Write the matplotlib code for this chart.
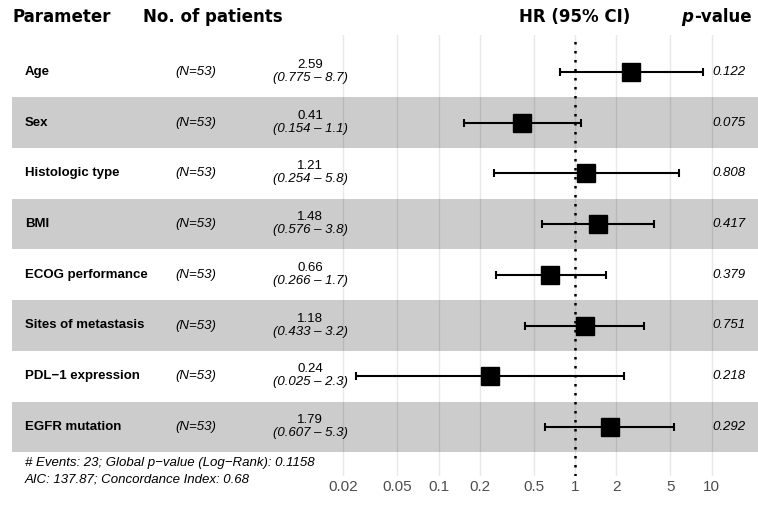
import numpy as np
import matplotlib.pyplot as plt

# --- DATOS ---
parametros = ["Age", "Sex", "Histologic type", "BMI", "ECOG performance",
              "Sites of metastasis", "PDL\u22121 expression", "EGFR mutation"]
n_pacientes = ["(N=53)"] * 8
hr = [2.59, 0.41, 1.21, 1.48, 0.66, 1.18, 0.24, 1.79]
ci_low = [0.775, 0.154, 0.254, 0.576, 0.266, 0.433, 0.025, 0.607]
ci_high = [8.7, 1.1, 5.8, 3.8, 1.7, 3.2, 2.3, 5.3]
ci_low_txt = ["0.775", "0.154", "0.254", "0.576", "0.266", "0.433", "0.025", "0.607"]
ci_high_txt = ["8.7", "1.1", "5.8", "3.8", "1.7", "3.2", "2.3", "5.3"]
p_valores = ["0.122", "0.075", "0.808", "0.417", "0.379", "0.751", "0.218", "0.292"]
ticks = [0.02, 0.05, 0.1, 0.2, 0.5, 1, 2, 5, 10]
tick_labels = ["0.02", "0.05", "0.1", "0.2", "0.5", "1", "2", "5", "10"]
pie = ["# Events: 23; Global p\u2212value (Log\u2212Rank): 0.1158",
       "AIC: 137.87; Concordance Index: 0.68"]

plt.rcParams['font.family'] = ['Liberation Sans', 'DejaVu Sans']

W, H = 758, 507
fig = plt.figure(figsize=(W / 100, H / 100), dpi=100)

# fondo en coordenadas de pixel
bg = fig.add_axes([0, 0, 1, 1])
bg.set_xlim(0, W)
bg.set_ylim(H, 0)
bg.axis('off')

y0, dy = 72, 50.7
filas = [y0 + dy * i for i in range(len(parametros))]

for i, yc in enumerate(filas):
    if i % 2 == 1:
        bg.fill_between([12, W], yc - dy / 2, yc + dy / 2, color='#cccccc', lw=0, zorder=0)
    bg.text(25, yc, parametros[i], fontsize=9.5, fontweight='bold', va='center', ha='left')
    bg.text(175, yc, n_pacientes[i], fontsize=9.5, style='italic', va='center', ha='left')
    bg.text(310, yc - 7, f"{hr[i]:.2f}", fontsize=9.5, va='center', ha='center')
    bg.text(310, yc + 6, f"({ci_low_txt[i]} \u2013 {ci_high_txt[i]})", fontsize=9.5,
            style='italic', va='center', ha='center')
    bg.text(746, yc, p_valores[i], fontsize=9.5, style='italic', va='center', ha='right')

# encabezados
hfont = dict(fontsize=12, fontweight='bold', family='DejaVu Sans', va='center')
bg.text(13, 17, "Parameter", ha='left', **hfont)
bg.text(143, 17, "No. of patients", ha='left', **hfont)
bg.text(575, 17, "HR (95% CI)", ha='center', **hfont)
t_val = bg.text(752, 17, "-value", ha='right', **hfont)
fig.canvas.draw()
bb = t_val.get_window_extent()
bg.text(bb.x0 - 1, 17, "p", ha='right', style='italic', **hfont)

for k, linea in enumerate(pie):
    bg.text(25, 463 + 17 * k, linea, fontsize=9.5, style='italic', va='center', ha='left')

# --- GRÁFICA FOREST ---
px_izq, px_der, py_top, py_bot = 330, 745, 35, 476
ax = fig.add_axes([px_izq / W, 1 - py_bot / H, (px_der - px_izq) / W, (py_bot - py_top) / H])
ax.patch.set_alpha(0)
ax.set_xscale('log')
ppd = 136.5
ax.set_xlim(10 ** ((px_izq - 575) / ppd), 10 ** ((px_der - 575) / ppd))
ax.set_ylim(py_bot, py_top)
for s in ax.spines.values():
    s.set_visible(False)
ax.set_yticks([])
ax.set_xticks(ticks)
ax.set_xticklabels(tick_labels)
ax.minorticks_off()
ax.tick_params(axis='x', length=0, pad=3, labelsize=11, labelcolor='#4d4d4d')
for t in ticks:
    ax.axvline(t, color='black', alpha=0.09, lw=1.0, zorder=1)
ax.axvline(1, color='black', lw=1.8, linestyle=(0, (1, 2.6)), zorder=2)

err = [np.array(hr) - np.array(ci_low), np.array(ci_high) - np.array(hr)]
ax.errorbar(hr, filas, xerr=err, fmt='s', color='black', ms=12.5, lw=1.5,
            capsize=3, capthick=1.5, zorder=3)

fig.savefig("out.png", dpi=100)
